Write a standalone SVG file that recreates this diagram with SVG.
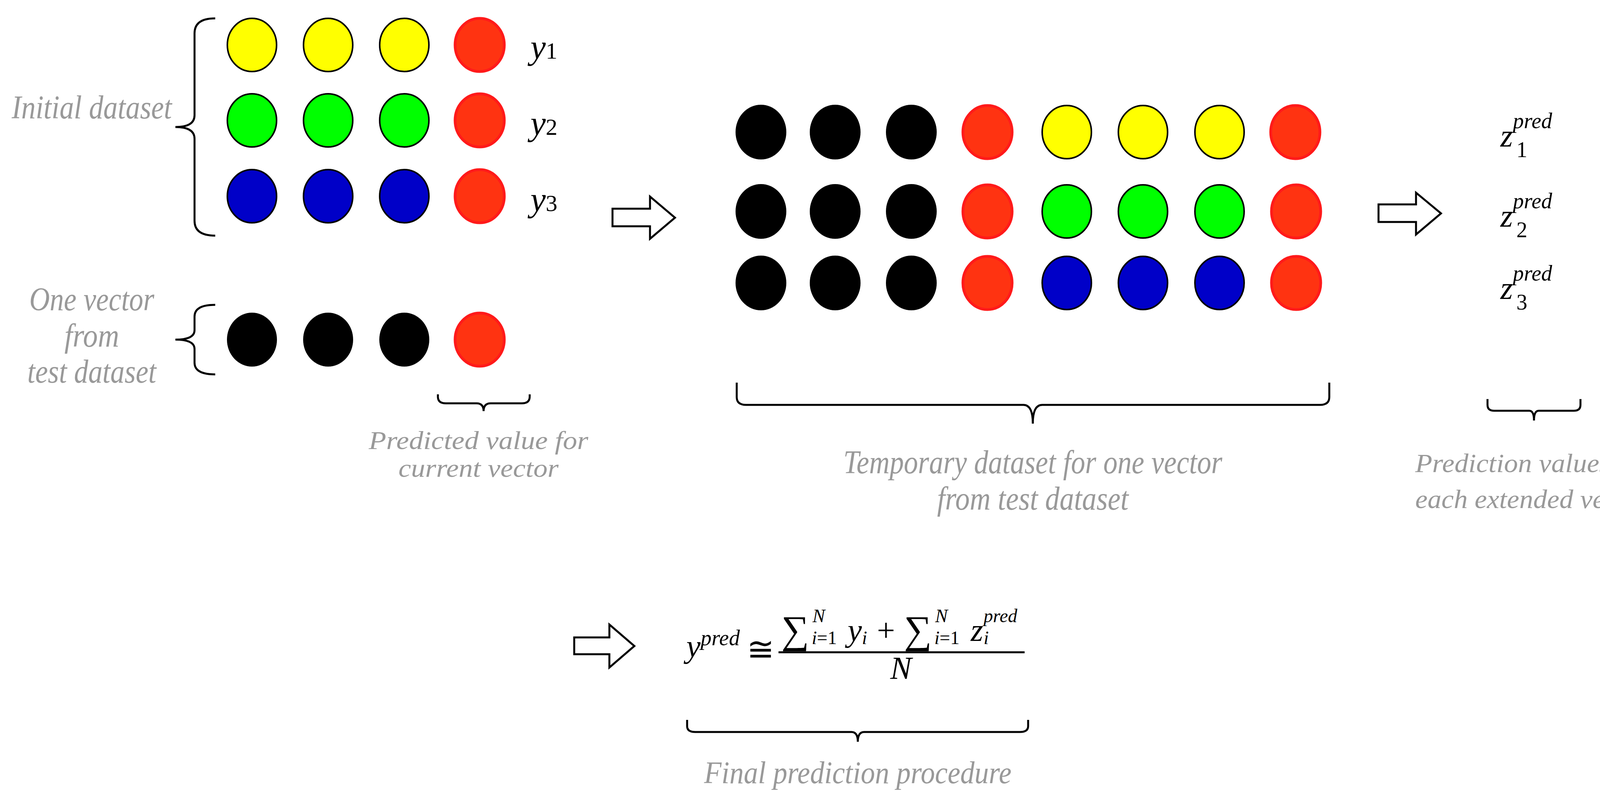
<svg xmlns="http://www.w3.org/2000/svg" width="4307" height="2047" viewBox="0 0 4307 2047">
<style>
.y{fill:#ffff00;stroke:#000;stroke-width:4}
.g{fill:#00ff00;stroke:#000;stroke-width:4}
.b{fill:#0000c8;stroke:#000;stroke-width:4}
.k{fill:#000}
.r{fill:#ff3311;stroke:#ff1a1a;stroke-width:7}
.br{fill:none;stroke:#000;stroke-width:5;stroke-linecap:butt}
.ar{fill:#fff;stroke:#000;stroke-width:5;stroke-linejoin:miter}
.lab{font-family:"Liberation Serif",serif;font-style:italic;fill:#999;text-anchor:middle}
.m{font-family:"Liberation Serif",serif;font-style:italic;fill:#000}
.mu{font-family:"Liberation Serif",serif;fill:#000}
</style>
<rect width="4307" height="2047" fill="#fff"/>
<g id="initial-dataset">
<ellipse class="y" cx="645" cy="115" rx="63" ry="68"/><ellipse class="y" cx="840" cy="115" rx="63" ry="68"/><ellipse class="y" cx="1035" cy="115" rx="63" ry="68"/><ellipse class="r" cx="1228" cy="115" rx="63" ry="68"/>
<ellipse class="g" cx="645" cy="308" rx="63" ry="68"/><ellipse class="g" cx="840" cy="308" rx="63" ry="68"/><ellipse class="g" cx="1035" cy="308" rx="63" ry="68"/><ellipse class="r" cx="1228" cy="308" rx="63" ry="68"/>
<ellipse class="b" cx="645" cy="502" rx="63" ry="68"/><ellipse class="b" cx="840" cy="502" rx="63" ry="68"/><ellipse class="b" cx="1035" cy="502" rx="63" ry="68"/><ellipse class="r" cx="1228" cy="502" rx="63" ry="68"/>
<text class="m" x="1358" y="150" font-size="88">y<tspan font-style="normal" font-size="60">1</tspan></text>
<text class="m" x="1358" y="345" font-size="88">y<tspan font-style="normal" font-size="60">2</tspan></text>
<text class="m" x="1358" y="540" font-size="88">y<tspan font-style="normal" font-size="60">3</tspan></text>
<path class="br" d="M551 47 Q498 47 498 85 L498 295 Q498 325 449 325 M551 603 Q498 603 498 565 L498 355 Q498 325 449 325"/>
<text class="lab" x="235" y="303" font-size="84" textLength="410" lengthAdjust="spacingAndGlyphs">Initial dataset</text>
</g>
<g id="test-vector">
<ellipse class="k" cx="645" cy="869" rx="64" ry="69"/><ellipse class="k" cx="840" cy="869" rx="64" ry="69"/><ellipse class="k" cx="1035" cy="869" rx="64" ry="69"/><ellipse class="r" cx="1228" cy="869" rx="63" ry="68"/>
<path class="br" d="M551 780 Q498 780 498 810 L498 845 Q498 869 449 869 M551 958 Q498 958 498 928 L498 893 Q498 869 449 869"/>
<text class="lab" x="235" y="794" font-size="84" textLength="320" lengthAdjust="spacingAndGlyphs">One vector</text>
<text class="lab" x="235" y="887" font-size="84" textLength="140" lengthAdjust="spacingAndGlyphs">from</text>
<text class="lab" x="235" y="979" font-size="84" textLength="330" lengthAdjust="spacingAndGlyphs">test dataset</text>
</g>
<g id="predicted-value">
<path class="br" d="M1121 1009 L1121 1015 Q1121 1032 1141 1032 L1220 1032 Q1238 1032 1238 1052 M1356 1009 L1356 1015 Q1356 1032 1336 1032 L1256 1032 Q1238 1032 1238 1052"/>
<text class="lab" x="1225" y="1149" font-size="66" textLength="562" lengthAdjust="spacingAndGlyphs">Predicted value for</text>
<text class="lab" x="1225" y="1220" font-size="66" textLength="410" lengthAdjust="spacingAndGlyphs">current vector</text>
</g>
<g id="temporary-dataset">
<ellipse class="k" cx="1948" cy="338" rx="65" ry="70"/><ellipse class="k" cx="2138" cy="338" rx="65" ry="70"/><ellipse class="k" cx="2333" cy="338" rx="65" ry="70"/><ellipse class="r" cx="2528" cy="338" rx="63" ry="68"/>
<ellipse class="y" cx="2731" cy="338" rx="63" ry="68"/><ellipse class="y" cx="2926" cy="338" rx="63" ry="68"/><ellipse class="y" cx="3122" cy="338" rx="63" ry="68"/><ellipse class="r" cx="3316" cy="338" rx="63" ry="68"/>
<ellipse class="k" cx="1948" cy="541" rx="65" ry="70"/><ellipse class="k" cx="2138" cy="541" rx="65" ry="70"/><ellipse class="k" cx="2333" cy="541" rx="65" ry="70"/><ellipse class="r" cx="2528" cy="541" rx="63" ry="68"/>
<ellipse class="g" cx="2731" cy="541" rx="63" ry="68"/><ellipse class="g" cx="2926" cy="541" rx="63" ry="68"/><ellipse class="g" cx="3122" cy="541" rx="63" ry="68"/><ellipse class="r" cx="3318" cy="541" rx="63" ry="68"/>
<ellipse class="k" cx="1948" cy="724" rx="65" ry="70"/><ellipse class="k" cx="2138" cy="724" rx="65" ry="70"/><ellipse class="k" cx="2333" cy="724" rx="65" ry="70"/><ellipse class="r" cx="2528" cy="724" rx="63" ry="68"/>
<ellipse class="b" cx="2731" cy="724" rx="63" ry="68"/><ellipse class="b" cx="2926" cy="724" rx="63" ry="68"/><ellipse class="b" cx="3122" cy="724" rx="63" ry="68"/><ellipse class="r" cx="3318" cy="724" rx="63" ry="68"/>
<path class="br" d="M1886 979 L1886 1016 Q1886 1036 1910 1036 L2620 1036 Q2644 1036 2644 1084 M3403 979 L3403 1016 Q3403 1036 3379 1036 L2668 1036 Q2644 1036 2644 1084"/>
<text class="lab" x="2644" y="1211" font-size="84" textLength="970" lengthAdjust="spacingAndGlyphs">Temporary dataset for one vector</text>
<text class="lab" x="2644" y="1304" font-size="84" textLength="490" lengthAdjust="spacingAndGlyphs">from test dataset</text>
</g>
<g id="prediction-values">
<text class="m" x="3841" y="375" font-size="82">z<tspan font-size="56" dy="-47">pred</tspan><tspan font-style="normal" font-size="56" x="3882" dy="74">1</tspan></text>
<text class="m" x="3841" y="580" font-size="82">z<tspan font-size="56" dy="-47">pred</tspan><tspan font-style="normal" font-size="56" x="3882" dy="74">2</tspan></text>
<text class="m" x="3841" y="765" font-size="82">z<tspan font-size="56" dy="-47">pred</tspan><tspan font-style="normal" font-size="56" x="3882" dy="74">3</tspan></text>
<path class="br" d="M3808 1021 L3808 1036 Q3808 1051 3825 1051 L3915 1051 Q3927 1051 3927 1076 M4046 1021 L4046 1036 Q4046 1051 4029 1051 L3939 1051 Q3927 1051 3927 1076"/>
<text class="lab" x="3923" y="1208" font-size="68" textLength="600" lengthAdjust="spacingAndGlyphs">Prediction values for</text>
<text class="lab" x="3923" y="1300" font-size="68" textLength="600" lengthAdjust="spacingAndGlyphs">each extended vector</text>
</g>
<g id="final-prediction">
<text class="m" x="1757" y="1681" font-size="82">y<tspan font-size="56" dy="-30">pred</tspan></text>
<text class="mu" x="1912" y="1690" font-size="84">≅</text>
<text class="mu" x="2000" y="1645" font-size="100">∑</text>
<text class="m" x="2078" y="1648" font-size="48">i<tspan font-style="normal">=1</tspan></text>
<text class="m" x="2080" y="1592" font-size="48">N</text>
<text class="m" x="2170" y="1640" font-size="82">y<tspan font-size="48" dy="8">i</tspan></text>
<text class="mu" x="2245" y="1640" font-size="82">+</text>
<text class="mu" x="2314" y="1645" font-size="100">∑</text>
<text class="m" x="2392" y="1648" font-size="48">i<tspan font-style="normal">=1</tspan></text>
<text class="m" x="2394" y="1592" font-size="48">N</text>
<text class="m" x="2485" y="1640" font-size="82">z</text>
<text class="m" x="2518" y="1592" font-size="48">pred</text>
<text class="m" x="2518" y="1648" font-size="48">i</text>
<line x1="1993" y1="1669" x2="2623" y2="1669" stroke="#000" stroke-width="5"/>
<text class="m" x="2279" y="1737" font-size="82">N</text>
<path class="br" d="M1759 1842 L1759 1858 Q1759 1873 1780 1873 L2180 1873 Q2196 1873 2196 1898 M2632 1842 L2632 1858 Q2632 1873 2611 1873 L2212 1873 Q2196 1873 2196 1898"/>
<text class="lab" x="2196" y="2004" font-size="80" textLength="787" lengthAdjust="spacingAndGlyphs">Final prediction procedure</text>
</g>
<g id="connectors">
<polygon class="ar" points="1568,534 1664,534 1664,503 1728,557 1664,611 1664,579 1568,579"/>
<polygon class="ar" points="3529,523 3625,523 3625,493 3689,546 3625,600 3625,568 3529,568"/>
<polygon class="ar" points="4111,517 4206,517 4206,487 4270,541 4206,596 4206,563 4111,563"/>
<polygon class="ar" points="1470,1631 1560,1631 1560,1598 1624,1653 1560,1708 1560,1674 1470,1674"/>
</g>
</svg>
